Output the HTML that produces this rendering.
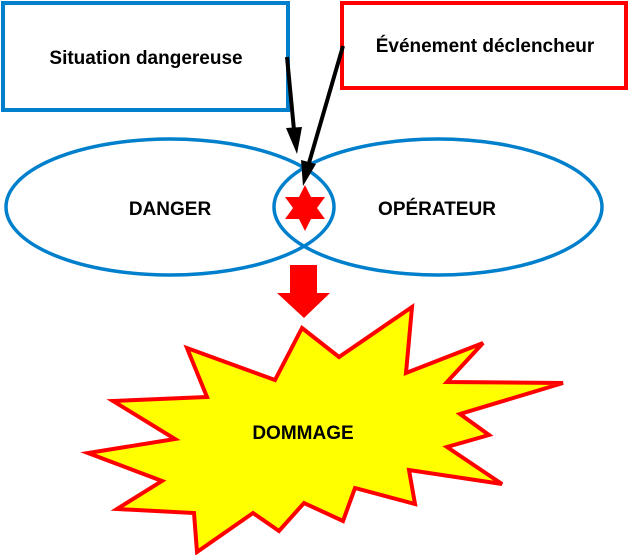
<!DOCTYPE html>
<html><head><meta charset="utf-8"><style>
html,body{margin:0;padding:0;background:#fff;width:630px;height:555px;overflow:hidden}
</style></head><body>
<svg width="630" height="555" viewBox="0 0 630 555" xmlns="http://www.w3.org/2000/svg" font-family="Liberation Sans, sans-serif" font-weight="bold">
<rect x="3" y="3" width="285" height="107" fill="#fff" stroke="#0080cc" stroke-width="4"/>
<text x="146" y="64" font-size="19" text-anchor="middle">Situation dangereuse</text>
<rect x="342" y="3" width="284" height="85" fill="#fff" stroke="#ff0000" stroke-width="4"/>
<text x="485" y="52" font-size="19" text-anchor="middle">Événement déclencheur</text>
<ellipse cx="170" cy="207" rx="164" ry="68" fill="none" stroke="#0080cc" stroke-width="3.5"/>
<ellipse cx="438" cy="207" rx="164" ry="68" fill="none" stroke="#0080cc" stroke-width="3.5"/>
<text x="170" y="215" font-size="19" text-anchor="middle">DANGER</text>
<text x="437" y="215" font-size="19" text-anchor="middle">OPÉRATEUR</text>
<polygon points="305,185 311,197 325,197 317,208 325,219 311,219 305,231 299,219 285,219 293,208 285,197 299,197" fill="#ff0000"/>
<line x1="287" y1="57" x2="294" y2="130" stroke="#000" stroke-width="4"/>
<polygon points="286,128 302,127 297,154" fill="#000"/>
<line x1="343" y1="46" x2="309" y2="163" stroke="#000" stroke-width="4"/>
<polygon points="301,160 316,164 303,186" fill="#000"/>
<rect x="290" y="265" width="27" height="29" fill="#ff0000"/>
<polygon points="277,293 330,293 304,318" fill="#ff0000"/>
<polygon points="302,328 339,357 412,307 406,373 483,343 447,382 563,383 460,414 489,435 447,447 502,484 409,470 415,504 355,488 343,521 304,503 279,531 253,513 197,552 194,513 117,509 162,481 88,453 175,439 113,401 207,397 187,348 275,380" fill="#ffff00" stroke="#ff0000" stroke-width="4" stroke-linejoin="miter"/>
<text x="303" y="439" font-size="19" text-anchor="middle">DOMMAGE</text>
</svg>
</body></html>
